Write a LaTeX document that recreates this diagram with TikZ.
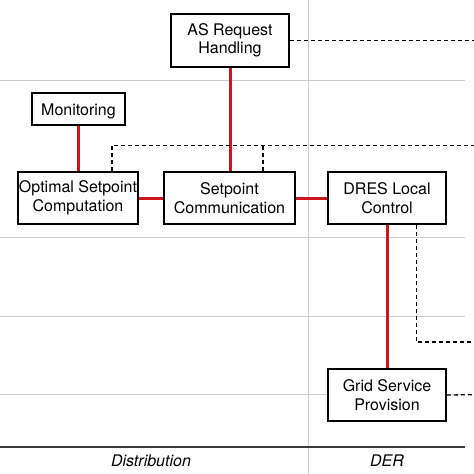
\documentclass[tikz,border=0pt]{standalone}
\usepackage{fontspec}
\setmainfont{TeX Gyre Heros}
\begin{document}
\begin{tikzpicture}[x=1pt,y=-1pt,
  box/.style={draw=black,line width=1.5pt,fill=white,align=center,inner sep=0pt,
    font=\fontsize{16}{18.5}\selectfont,execute at begin node={\rule{0pt}{16pt}}},
  redlink/.style={draw={rgb,255:red,204;green,24;blue,28},line width=3pt},
  dlink/.style={draw=black,line width=1.3pt,dash pattern=on 4pt off 3pt},
  grid/.style={draw={rgb,255:red,205;green,205;blue,205},line width=1pt},
  lbl/.style={font=\fontsize{16}{18}\selectfont\itshape}]
\useasboundingbox (0,0) rectangle (474,474);
% grid lines
\draw[grid] (0,80) -- (465,80);
\draw[grid] (0,237.5) -- (465,237.5);
\draw[grid] (0,316) -- (465,316);
\draw[grid] (0,394.7) -- (465,394.7);
\draw[grid] (308.7,0) -- (308.7,474);
\draw[draw={rgb,255:red,60;green,60;blue,60},line width=1.1pt] (0,447) -- (465,447);
% boxes
\node[box,minimum width=118pt,minimum height=53pt] (as) at (230,40.5) {AS Request\\Handling};
\node[box,minimum width=93pt,minimum height=32pt] (mon) at (78.5,109) {Monitoring};
\node[box,minimum width=120pt,minimum height=52pt] (opt) at (78,198) {Optimal Setpoint\\Computation};
\node[box,minimum width=131pt,minimum height=52pt] (spc) at (229.5,198) {Setpoint\\Communication};
\node[box,minimum width=118pt,minimum height=52pt] (dres) at (387,198) {DRES Local\\Control};
\node[box,minimum width=118pt,minimum height=52pt] (gsp) at (387,395) {Grid Service\\Provision};
% free ends
\coordinate (e1) at (474,40.7);
\coordinate (e2) at (474,145.7);
\coordinate (e3) at (474,342);
\coordinate (e4) at (474,394.7);
\coordinate (c1) at (112,145.7);
\coordinate (c2) at (263,145.7);
\coordinate (c3) at (416.7,342);
% red links
\draw[redlink] (mon.south) -- (opt.north -| mon.south);
\draw[redlink] (as.south) -- (spc.north -| as.south);
\draw[redlink] (opt.east) -- (spc.west);
\draw[redlink] (spc.east) -- (dres.west);
\draw[redlink] (dres.south) -- (gsp.north);
% dashed links
\draw[dlink] (as.east |- e1) -- (e1);
\draw[dlink] (opt.north -| c1) -- (c1) -- (e2);
\draw[dlink] (spc.north -| c2) -- (c2);
\draw[dlink] (dres.south -| c3) -- (c3) -- (e3);
\draw[dlink] (gsp.east) -- (e4);
% labels
\node[lbl] (ld) at (151,461) {Distribution};
\node[lbl] (lr) at (387,461) {DER};
\end{tikzpicture}
\end{document}
